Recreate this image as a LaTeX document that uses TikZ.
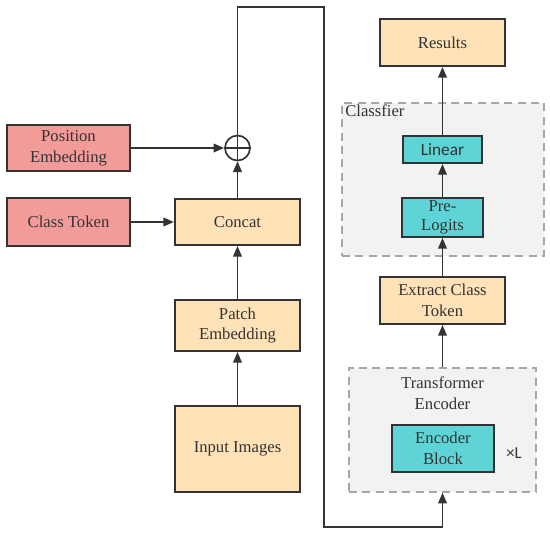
\documentclass[tikz,border=0pt]{standalone}
\usepackage{fontspec}
\setmainfont{Liberation Serif}
\newfontfamily\calfont{Carlito}
\usetikzlibrary{arrows.meta}

\definecolor{pinkfill}{HTML}{F19C99}
\definecolor{orangefill}{HTML}{FFE2B8}
\definecolor{cyanfill}{HTML}{5FD4D6}
\definecolor{groupfill}{HTML}{F2F2F2}
\definecolor{groupline}{HTML}{A6A6A6}
\definecolor{edge}{HTML}{333333}

\tikzset{
  box/.style={draw=edge,line width=1.5pt,align=center,inner sep=0pt,
    font=\fontsize{12.5}{15.5}\selectfont,text=edge},
  pinkbox/.style={box,fill=pinkfill},
  orangebox/.style={box,fill=orangefill},
  cyanbox/.style={box,fill=cyanfill},
  group/.style={draw=groupline,fill=groupfill,dashed,line width=1.1pt,
    dash pattern=on 6pt off 4pt,inner sep=0pt},
  flow/.style={draw=edge,line width=1.25pt,-{Triangle[length=8pt,width=6.5pt]}},
  wire/.style={draw=edge,line width=1.25pt},
}

\begin{document}
\begin{tikzpicture}[x=0.75pt,y=0.75pt,yscale=-1,xscale=1]
\useasboundingbox (0,0) rectangle (550,537);
% dashed groups
\node [group,minimum width=202*0.75pt,minimum height=153*0.75pt] (classfier) at (443,179.5) {};
\node [anchor=north west,inner sep=0pt,font=\fontsize{12.5}{15.5}\selectfont,text=edge] (classlabel) at (345,104) {Classfier};
\node [group,minimum width=187*0.75pt,minimum height=124*0.75pt] (encoder) at (442.5,430) {};
\node [align=center,inner sep=0pt,font=\fontsize{12.5}{15.5}\selectfont,text=edge] (enclabel) at (442.5,393.5) {Transformer\\Encoder};
% left column
\node [pinkbox,minimum width=123*0.75pt,minimum height=46*0.75pt] (pos) at (68.5,148) {Position\\Embedding};
\node [pinkbox,minimum width=123*0.75pt,minimum height=48*0.75pt] (cls) at (68.5,222) {Class Token};
\node [orangebox,minimum width=125*0.75pt,minimum height=46*0.75pt] (concat) at (237.5,222) {Concat};
\node [circle,draw=edge,line width=1.25pt,minimum size=25*0.75pt,inner sep=0pt] (plus) at (237.5,148) {};
\node [orangebox,minimum width=125*0.75pt,minimum height=51*0.75pt] (patch) at (237.5,325.5) {Patch\\Embedding};
\node [orangebox,minimum width=125*0.75pt,minimum height=86*0.75pt] (input) at (237.5,449) {Input Images};
% right column
\node [orangebox,minimum width=125*0.75pt,minimum height=47*0.75pt] (results) at (442.5,42.5) {Results};
\node [cyanbox,minimum width=79*0.75pt,minimum height=27*0.75pt,font=\calfont\fontsize{13}{15.5}\selectfont] (linear) at (442.5,149.5) {Linear};
\node [cyanbox,minimum width=81*0.75pt,minimum height=39*0.75pt,font=\fontsize{12.5}{14.5}\selectfont] (prelogits) at (442.5,217.5) {Pre-\\Logits};
\node [orangebox,minimum width=125*0.75pt,minimum height=47*0.75pt] (extract) at (442.5,300.5) {Extract Class\\Token};
\node [cyanbox,minimum width=102*0.75pt,minimum height=47*0.75pt] (block) at (443,448.5) {Encoder\\Block};
\node [inner sep=0pt,font=\calfont\fontsize{12.5}{14}\selectfont,text=edge] (times) at (514,453) {×L};
% loop corners
\coordinate (topleft) at (237.5,7);
\coordinate (topright) at (324,7);
\coordinate (botright) at (324,527);
\coordinate (botleft) at (442.5,527);
% connectors
\draw [wire] (plus.north) -- (plus.south) (plus.west) -- (plus.east);
\draw [flow] (input) -- (patch);
\draw [flow] (patch) -- (concat);
\draw [flow] (cls) -- (concat);
\draw [flow] (concat) -- (plus);
\draw [flow] (pos.east) -- (plus.west);
\draw [wire] (plus.north) -- (topleft) -- (topright) -- (botright) -- (botleft);
\draw [flow] (botleft) -- (encoder.south);
\draw [flow] (encoder.north) -- (extract.south);
\draw [flow] (extract.north) -- (prelogits.south);
\draw [flow] (prelogits) -- (linear);
\draw [flow] (linear) -- (results);
\end{tikzpicture}
\end{document}
